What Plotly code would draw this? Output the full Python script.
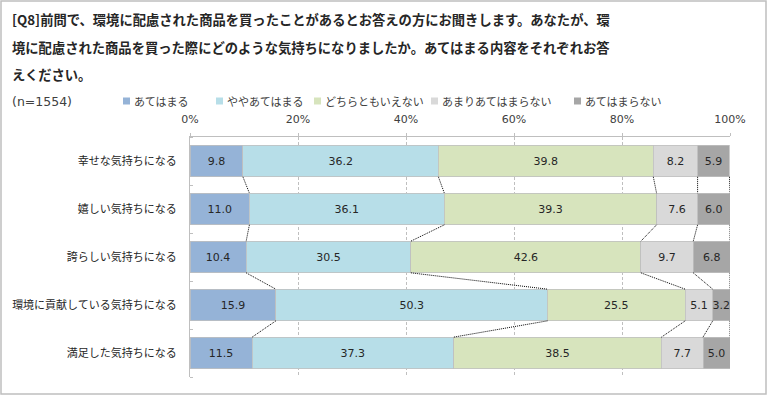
import plotly.graph_objects as go

# ---------------- data ----------------
categories = ["幸せな気持ちになる", "嬉しい気持ちになる", "誇らしい気持ちになる",
              "環境に貢献している気持ちになる", "満足した気持ちになる"]
series_names = ["あてはまる", "ややあてはまる", "どちらともいえない",
                "あまりあてはまらない", "あてはまらない"]
v_atehamaru = [9.8, 11.0, 10.4, 15.9, 11.5]
v_yaya = [36.2, 36.1, 30.5, 50.3, 37.3]
v_dochira = [39.8, 39.3, 42.6, 25.5, 38.5]
v_amari = [8.2, 7.6, 9.7, 5.1, 7.7]
v_atehamaranai = [5.9, 6.0, 6.8, 3.2, 5.0]
tick_values = [0, 20, 40, 60, 80, 100]
tick_labels = ["0%", "20%", "40%", "60%", "80%", "100%"]
title_lines = [
    "[Q8]前問で、環境に配慮された商品を買ったことがあるとお答えの方にお聞きします。あなたが、環",
    "境に配慮された商品を買った際にどのような気持ちになりましたか。あてはまる内容をそれぞれお答",
    "えください。",
]
sample_note = "(n=1554)"

series_values = [v_atehamaru, v_yaya, v_dochira, v_amari, v_atehamaranai]
colors = ["#95B3D7", "#B7DEE8", "#D7E4BD", "#D9D9D9", "#A6A6A6"]

# ---------------- layout geometry (pixels) ----------------
W, H = 769, 396
L, R, T, B = 190, 39, 137, 19
PW, PH = W - L - R, H - T - B
BAR_W = 0.66


def px_x(x):
    return (x - L) / PW


def px_y(y):
    return (H - B - y) / PH


ypos = list(range(len(categories)))
JP = "Noto Sans CJK JP"
NUM = "DejaVu Sans"

fig = go.Figure()
for name, vals, col in zip(series_names, series_values, colors):
    fig.add_trace(go.Bar(
        name=name, y=ypos, x=vals, orientation="h", width=BAR_W,
        marker=dict(color=col, line=dict(color="#BFBFBF", width=0.8)),
        text=vals, texttemplate="%{x:.1f}", textposition="inside",
        insidetextanchor="middle", textangle=0, constraintext="none",
        insidetextfont=dict(family=NUM, size=11, color="#262626"),
        showlegend=False, hoverinfo="x+name",
    ))

# series connector lines (dotted) between cumulative boundaries
cx, cy = [], []
cums = []
for i in range(len(categories)):
    s, row = 0.0, []
    for vals in series_values:
        s += vals[i]
        row.append(s)
    cums.append(row)
for k in range(len(series_values)):
    for i in range(len(categories) - 1):
        cx += [cums[i][k], cums[i + 1][k], None]
        cy += [i + BAR_W / 2, i + 1 - BAR_W / 2, None]
fig.add_trace(go.Scatter(x=cx, y=cy, mode="lines",
                         line=dict(color="#000000", width=1, dash="1px,1px"),
                         showlegend=False, hoverinfo="skip"))

fig.update_layout(
    width=W, height=H, barmode="stack",
    margin=dict(l=L, r=R, t=T, b=B, pad=0),
    paper_bgcolor="white", plot_bgcolor="white",
    font=dict(family=JP, size=11, color="#333333"),
    showlegend=False,
    xaxis=dict(side="top", range=[0, 100], tickvals=tick_values, ticktext=tick_labels,
               showline=True, linecolor="#BFBFBF", linewidth=1,
               showgrid=True, gridcolor="#BFBFBF", griddash="3px,2px", gridwidth=1,
               zeroline=False, ticks="outside", ticklen=3, tickcolor="#BFBFBF",
               ticklabelstandoff=6,
               tickfont=dict(family=NUM, size=11, color="#404040"), fixedrange=True),
    yaxis=dict(range=[len(categories) - 0.5, -0.5], tickvals=ypos, ticktext=categories,
               showline=True, linecolor="#BFBFBF", linewidth=1, showgrid=False,
               zeroline=False, ticks="", ticklabelstandoff=10,
               minor=dict(tick0=0.5, dtick=1, ticks="inside", ticklen=3, tickcolor="#BFBFBF"),
               tickfont=dict(family=JP, size=11, color="#262626"), fixedrange=True),
)

# title lines
title_y = [20, 47, 74]
for txt, yy in zip(title_lines, title_y):
    fig.add_annotation(text=txt, xref="paper", yref="paper", x=px_x(10), y=px_y(yy),
                       xanchor="left", yanchor="middle", showarrow=False,
                       font=dict(family=JP, size=13.3, color="#262626", weight="bold"))

fig.add_annotation(text=sample_note, xref="paper", yref="paper", x=px_x(10), y=px_y(101),
                   xanchor="left", yanchor="middle", showarrow=False,
                   font=dict(family=NUM, size=12.5, color="#404040"))

# legend (manual)
legend_x = [123, 216, 314, 431, 574]
for name, col, lx in zip(series_names, colors, legend_x):
    fig.add_shape(type="rect", xref="paper", yref="paper",
                  x0=px_x(lx), x1=px_x(lx + 7), y0=px_y(104.5), y1=px_y(97.5),
                  fillcolor=col, line=dict(width=0))
    fig.add_annotation(text=name, xref="paper", yref="paper", x=px_x(lx + 8.5), y=px_y(100.5),
                       xanchor="left", yanchor="middle", showarrow=False,
                       font=dict(family=JP, size=11, color="#404040"))

# outer border
fig.add_shape(type="rect", xref="paper", yref="paper",
              x0=px_x(1), x1=px_x(766), y0=px_y(394), y1=px_y(1),
              line=dict(color="#BFBFBF", width=1.5), fillcolor="rgba(0,0,0,0)", layer="below")

fig.write_html("out.html", config={"displayModeBar": False},
               post_script="document.body.style.margin='0';document.body.style.overflow='hidden';")
